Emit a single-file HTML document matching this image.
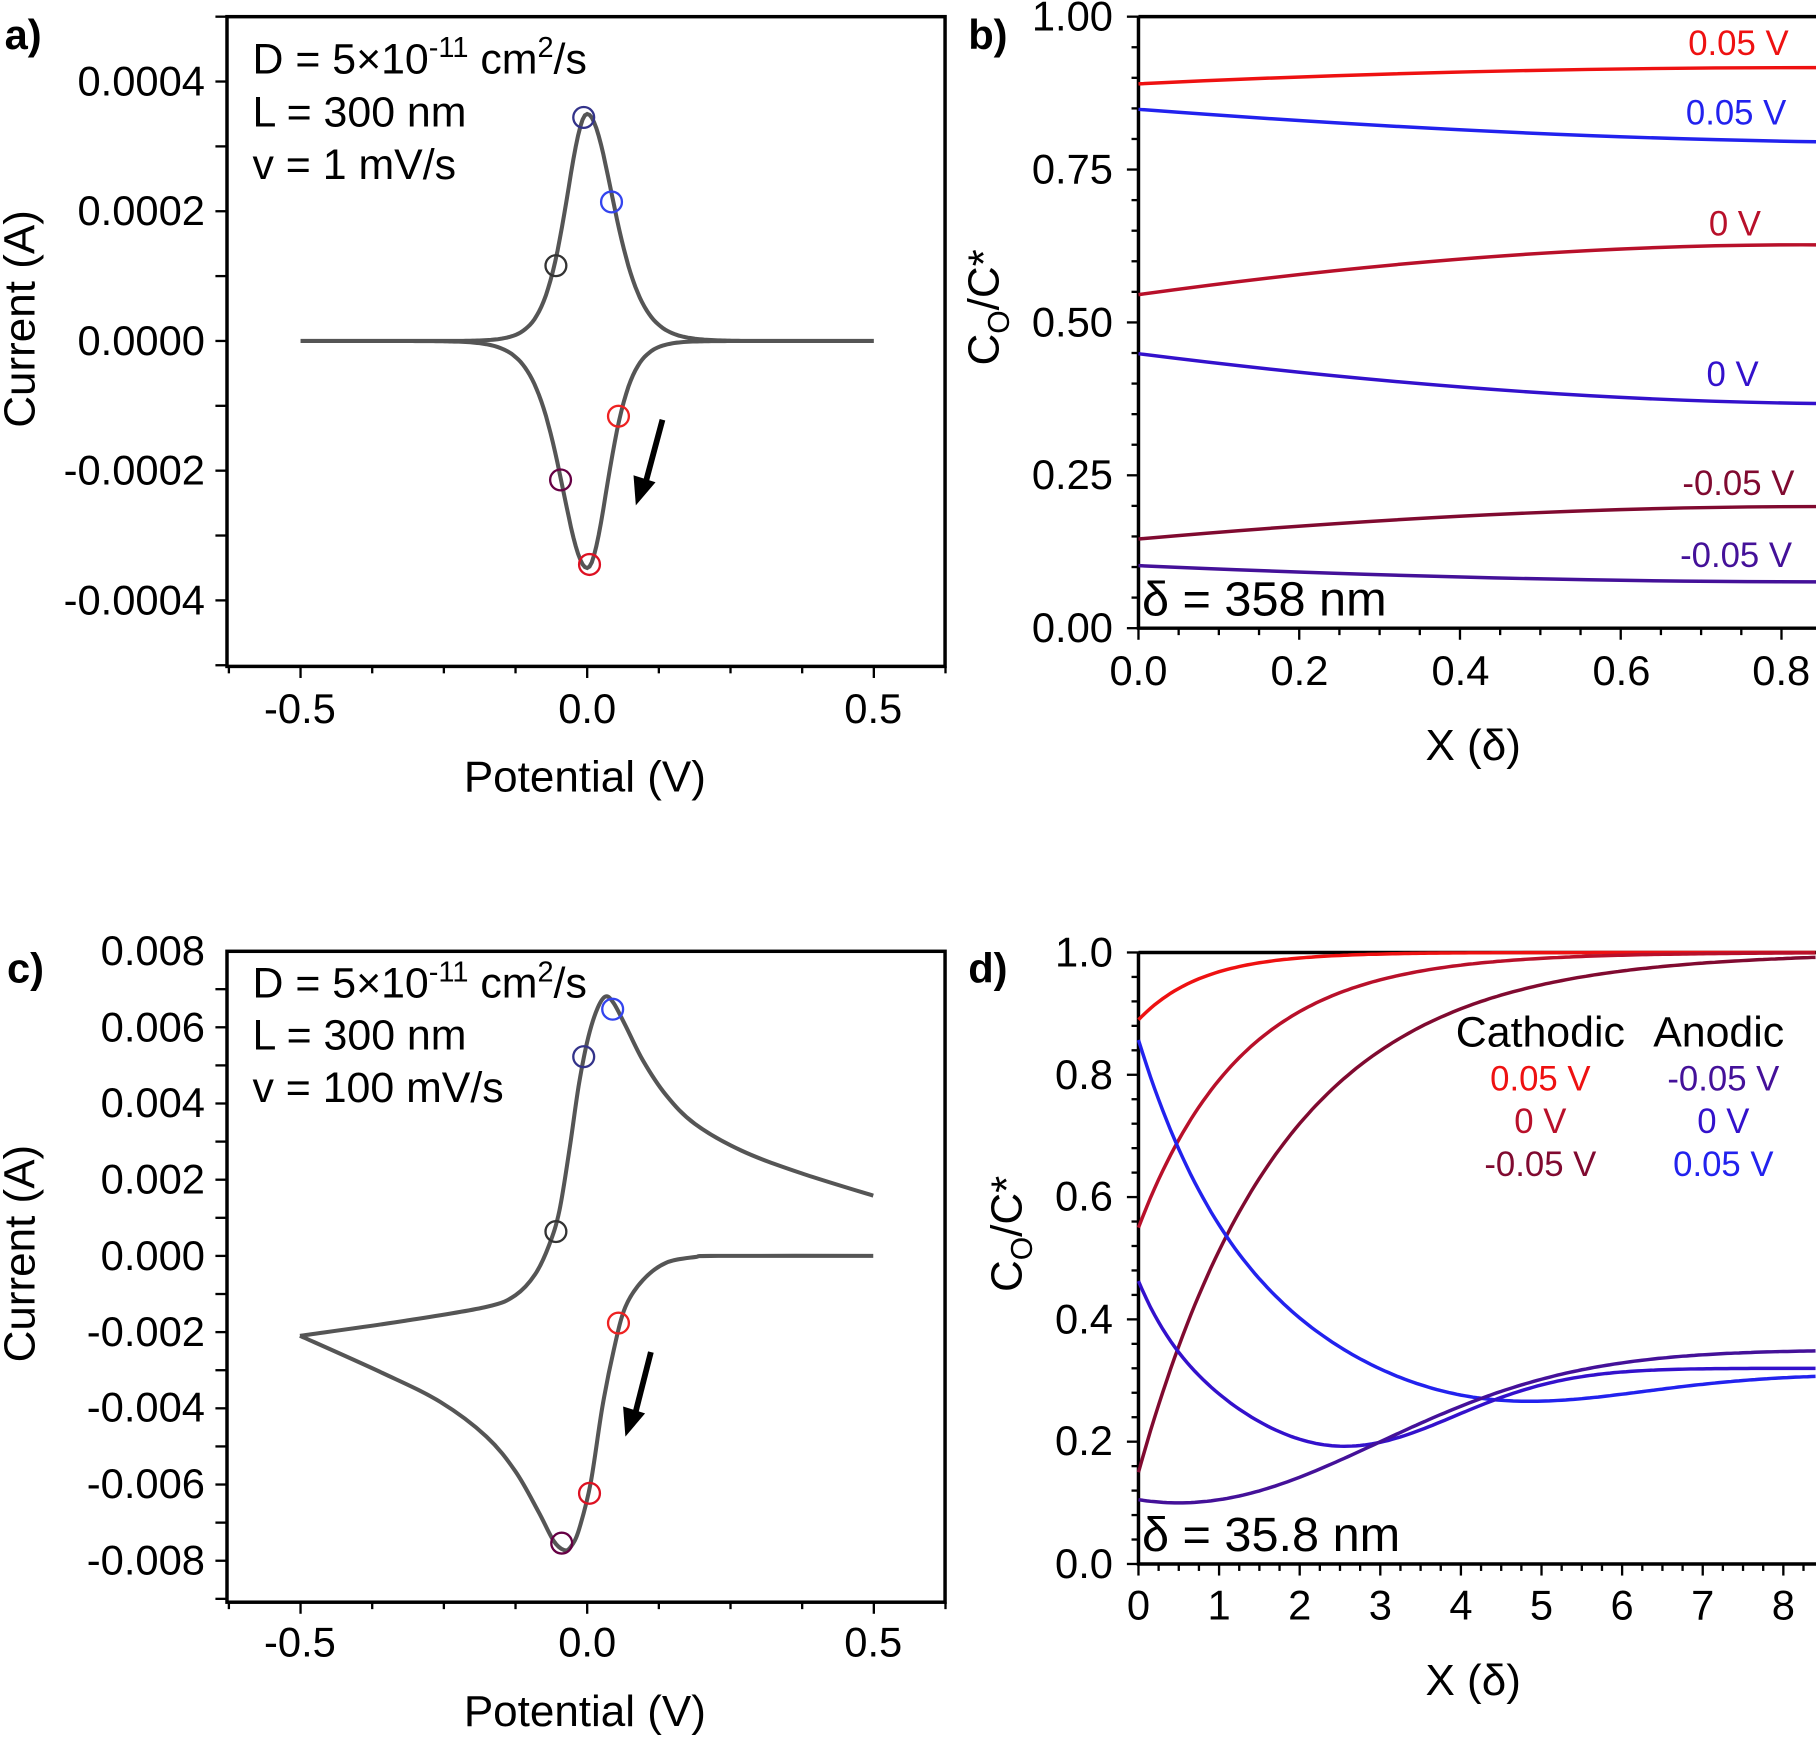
<!DOCTYPE html>
<html><head><meta charset="utf-8"><style>
html,body{margin:0;padding:0;background:#fff}
svg{display:block}
text{font-family:"Liberation Sans",Arial,sans-serif}
</style></head><body>
<svg id="s" width="1816" height="1737" viewBox="0 0 1568 1499" xmlns="http://www.w3.org/2000/svg">
<rect width="1568" height="1499" fill="#fff"/>
<!-- Panel a -->
<rect x="196" y="14" width="620" height="561" fill="none" stroke="#000" stroke-width="3"/>
<g font-size="36" text-anchor="end" fill="#000">
<text x="177" y="82">0.0004</text><text x="177" y="306">0.0000</text>
<text x="177" y="194">0.0002</text><text x="177" y="418">-0.0002</text><text x="177" y="530">-0.0004</text>
</g>
<g font-size="36" text-anchor="middle"><text x="259" y="624">-0.5</text><text x="507" y="624">0.0</text><text x="754" y="624">0.5</text>
<text x="505" y="683" font-size="38">Potential (V)</text></g>
<text transform="translate(30,275) rotate(-90)" font-size="38" text-anchor="middle">Current (A)</text>
<text x="4" y="42" font-size="36" font-weight="bold">a)</text>
<g font-size="37"><text x="218" y="63">D = 5×10<tspan dy="-14" font-size="25">-11</tspan><tspan dy="14"> cm</tspan><tspan dy="-14" font-size="25">2</tspan><tspan dy="14">/s</tspan></text>
<text x="218" y="109">L = 300 nm</text><text x="218" y="154">v = 1 mV/s</text></g>
<path id="ca" fill="none" stroke="#555" stroke-width="3.5"/>
<g fill="none" stroke-width="2">
<circle cx="504" cy="101" r="9" stroke="#33338a"/><circle cx="528" cy="174" r="9" stroke="#3344ee"/>
<circle cx="480" cy="229" r="9" stroke="#333"/><circle cx="534" cy="359" r="9" stroke="#ee2222"/>
<circle cx="484" cy="414" r="9" stroke="#660044"/><circle cx="509" cy="487" r="9" stroke="#dd1122"/></g>
<line x1="572" y1="362" x2="557" y2="418" stroke="#000" stroke-width="5"/><polygon points="549,436 547,410 566,416" fill="#000"/>

<!-- Panel c -->
<rect x="196" y="821" width="620" height="562" fill="none" stroke="#000" stroke-width="3"/>
<g font-size="36" text-anchor="end">
<text x="177" y="833">0.008</text><text x="177" y="899">0.006</text><text x="177" y="964">0.004</text><text x="177" y="1030">0.002</text><text x="177" y="1096">0.000</text>
<text x="177" y="1162">-0.002</text><text x="177" y="1227">-0.004</text><text x="177" y="1293">-0.006</text><text x="177" y="1359">-0.008</text></g>
<g font-size="36" text-anchor="middle"><text x="259" y="1430">-0.5</text><text x="507" y="1430">0.0</text><text x="754" y="1430">0.5</text>
<text x="505" y="1490" font-size="38">Potential (V)</text></g>
<text transform="translate(30,1082) rotate(-90)" font-size="38" text-anchor="middle">Current (A)</text>
<text x="6" y="848" font-size="36" font-weight="bold">c)</text>
<g font-size="37"><text x="218" y="861">D = 5×10<tspan dy="-14" font-size="25">-11</tspan><tspan dy="14"> cm</tspan><tspan dy="-14" font-size="25">2</tspan><tspan dy="14">/s</tspan></text>
<text x="218" y="906">L = 300 nm</text><text x="218" y="951">v = 100 mV/s</text></g>
<path id="c1" fill="none" stroke="#555" stroke-width="3.5"/>
<path id="c2" fill="none" stroke="#555" stroke-width="3.5"/>
<g fill="none" stroke-width="2">
<circle cx="529" cy="871" r="9" stroke="#3344ee"/><circle cx="504" cy="912" r="9" stroke="#33338a"/>
<circle cx="480" cy="1063" r="9" stroke="#333"/><circle cx="534" cy="1142" r="9" stroke="#ee2222"/>
<circle cx="509" cy="1289" r="9" stroke="#dd1122"/><circle cx="485" cy="1332" r="9" stroke="#660044"/></g>
<line x1="562" y1="1167" x2="548" y2="1222" stroke="#000" stroke-width="5"/><polygon points="540,1240 538,1214 557,1220" fill="#000"/>

<!-- Panel b -->
<path d="M983,14 H1568 M983,14 V542 H1568" fill="none" stroke="#000" stroke-width="3"/>
<g font-size="36" text-anchor="end"><text x="961" y="26">1.00</text><text x="961" y="158">0.75</text><text x="961" y="290">0.50</text><text x="961" y="422">0.25</text><text x="961" y="554">0.00</text></g>
<g font-size="36" text-anchor="middle"><text x="983" y="591">0.0</text><text x="1122" y="591">0.2</text><text x="1261" y="591">0.4</text><text x="1400" y="591">0.6</text><text x="1538" y="591">0.8</text>
<text x="1272" y="656" font-size="38">X (δ)</text></g>
<text transform="translate(862,265) rotate(-90)" font-size="38" text-anchor="middle">C<tspan dy="9" font-size="26">O</tspan><tspan dy="-9">/C*</tspan></text>
<text x="836" y="42" font-size="36" font-weight="bold">b)</text>
<text x="986" y="531" font-size="42">δ = 358 nm</text>
<g fill="none" stroke-width="3">
<path d="M983,72 Q1270,58 1568,58" stroke="#ee1111"/>
<path d="M983,94 Q1300,118 1568,122" stroke="#2222ee"/>
<path d="M983,254 Q1300,210 1568,211" stroke="#b8102a"/>
<path d="M983,305 Q1300,345 1568,348" stroke="#3311cc"/>
<path d="M983,465 Q1300,437 1568,437" stroke="#800a30"/>
<path d="M983,488 Q1300,502 1568,502" stroke="#441199"/></g>
<g font-size="30" text-anchor="middle"><text x="1501" y="47" fill="#ee1111">0.05 V</text><text x="1499" y="107" fill="#2222ee">0.05 V</text>
<text x="1498" y="203" fill="#b8102a">0 V</text><text x="1496" y="333" fill="#3311cc">0 V</text>
<text x="1501" y="427" fill="#800a30">-0.05 V</text><text x="1499" y="489" fill="#441199">-0.05 V</text></g>

<!-- Panel d -->
<path d="M983,822 H1568 M983,822 V1350 H1568" fill="none" stroke="#000" stroke-width="3"/>
<g font-size="36" text-anchor="end"><text x="961" y="834">1.0</text><text x="961" y="940">0.8</text><text x="961" y="1045">0.6</text><text x="961" y="1151">0.4</text><text x="961" y="1256">0.2</text><text x="961" y="1362">0.0</text></g>
<g font-size="36" text-anchor="middle" id="dx"></g>
<text x="1272" y="1463" font-size="38" text-anchor="middle">X (δ)</text>
<text transform="translate(882,1065) rotate(-90)" font-size="38" text-anchor="middle">C<tspan dy="9" font-size="26">O</tspan><tspan dy="-9">/C*</tspan></text>
<text x="836" y="848" font-size="36" font-weight="bold">d)</text>
<text x="986" y="1339" font-size="42">δ = 35.8 nm</text>
<g id="dc" fill="none" stroke-width="3"></g>
<g font-size="37" text-anchor="middle"><text x="1330" y="903">Cathodic</text><text x="1484" y="903">Anodic</text></g>
<g font-size="30" text-anchor="middle">
<text x="1330" y="941" fill="#ee1111">0.05 V</text><text x="1330" y="978" fill="#b8102a">0 V</text><text x="1330" y="1015" fill="#800a30">-0.05 V</text>
<text x="1488" y="941" fill="#441199">-0.05 V</text><text x="1488" y="978" fill="#3311cc">0 V</text><text x="1488" y="1015" fill="#2222ee">0.05 V</text></g>
<g id="ticks" stroke="#000" stroke-width="2"></g>
</svg>
<script>
(function(){
var NS="http://www.w3.org/2000/svg";
function el(p,t,a){var e=document.createElementNS(NS,t);for(var k in a)e.setAttribute(k,a[k]);p.appendChild(e);return e;}
function sech2(x){var s=1/Math.cosh(x);return s*s;}
var d="";
for(var E=-0.5;E<=0.5001;E+=0.004){var a=E<0?20:16;var y=294-196*sech2(a*E);d+=(d?"L":"M")+(507+495*E).toFixed(1)+","+y.toFixed(1);}
for(var E=0.5;E>=-0.5001;E-=0.004){var a=E>0?20:16;var y=294+196*sech2(a*E);d+="L"+(507+495*E).toFixed(1)+","+y.toFixed(1);}
document.getElementById("ca").setAttribute("d",d);
function cr(pts){var p="M"+pts[0][0]+","+pts[0][1];for(var i=0;i < pts.length-1;i++){var p0=pts[Math.max(i-1,0)],p1=pts[i],p2=pts[i+1],p3=pts[Math.min(i+2,pts.length-1)];
p+="C"+(p1[0]+(p2[0]-p0[0])/6).toFixed(1)+","+(p1[1]+(p2[1]-p0[1])/6).toFixed(1)+" "+(p2[0]-(p3[0]-p1[0])/6).toFixed(1)+","+(p2[1]-(p3[1]-p1[1])/6).toFixed(1)+" "+p2[0]+","+p2[1];}return p;}
document.getElementById("c1").setAttribute("d",cr([[259,1153],[350,1140],[420,1128],[445,1118],[462,1100],[474,1075],[483,1045],[492,990],[500,935],[508,895],[516,870],[523,860],[530,866],[540,885],[555,915],[575,945],[600,970],[640,993],[690,1012],[754,1032]]));
document.getElementById("c2").setAttribute("d",cr([[754,1084],[620,1084],[600,1085],[575,1090],[555,1105],[540,1128],[530,1165],[520,1215],[510,1280],[500,1320],[493,1335],[487,1338],[478,1330],[465,1305],[445,1270],[420,1240],[380,1210],[330,1185],[259,1153]]));
var dc=document.getElementById("dc");
var fs=[[function(X){return 1-0.11*Math.exp(-X/0.8)},"#ee1111"],
[function(X){return 1-0.45*Math.exp(-X/1.3)},"#b8102a"],
[function(X){return 1-0.85*Math.exp(-X/1.8)},"#800a30"],
[function(X){return 0.31+0.55*Math.exp(-X/1.3)-0.06*Math.exp(-Math.pow((X-4.3)/2.5,2))},"#2222ee"],
[function(X){return 0.32+0.17*Math.exp(-X/0.6)-0.13*Math.exp(-Math.pow((X-2.5)/2,2))},"#3311cc"],
[function(X){return 0.35-0.25*Math.exp(-Math.pow((X-0.5)/3.5,2))},"#441199"]];
fs.forEach(function(f){var p="";for(var X=0;X<=8.42;X+=0.05){p+=(p?"L":"M")+(983+69.6*X).toFixed(1)+","+(1350-528*f[0](X)).toFixed(1);}el(dc,"path",{d:p,stroke:f[1]});});
var dx=document.getElementById("dx");
for(var i=0;i<=8;i++){var t=el(dx,"text",{x:983+69.6*i,y:1398});t.textContent=i;}
var tk=document.getElementById("ticks");
function ln(x1,y1,x2,y2){el(tk,"line",{x1:x1,y1:y1,x2:x2,y2:y2});}
[[575,14,294,56],[1383,821,1084,32.9]].forEach(function(c){
 for(var v=-0.625;v<=0.626;v+=0.125){var x=507+495*v;var maj=Math.abs(v*2-Math.round(v*2))<1e-6;ln(x,c[0],x,c[0]+(maj?10:6));}
 for(var y=c[2];y>=c[1];y-=c[3]){ln(196,y,186,y);} for(var y=c[2]+c[3];y<=c[0];y+=c[3]){ln(196,y,186,y);}
});
for(var i=0;i<=20;i++){var y=542-26.4*i;ln(983,y,i%5==0?973:977,y);}
for(var i=0;i<=16;i++){var x=983+34.7*i;ln(x,542,x,i%4==0?552:548);}
for(var i=0;i<=25;i++){var y=1350-21.12*i;ln(983,y,i%5==0?973:977,y);}
for(var i=0;i<=33;i++){var x=983+17.4*i;ln(x,1350,x,i%4==0?1360:1356);}
})();
</script>
</body></html>
